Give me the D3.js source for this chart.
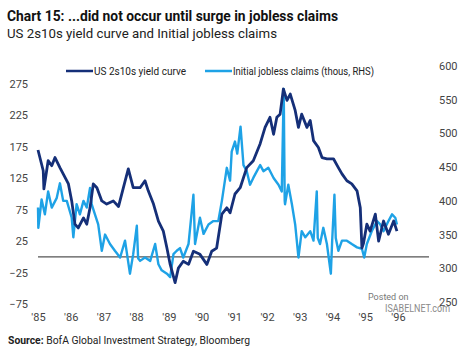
<!DOCTYPE html>
<html>
<head>
<meta charset="utf-8">
<script src="https://cdn.jsdelivr.net/npm/d3@7"></script>
<style>
  body { margin: 0; background: #fff; }
  svg { display: block; font-family: Roboto, "Open Sans", sans-serif; }
</style>
</head>
<body>
<div id="chart"></div>
<script>
// US 2s10s yield curve (bp, LHS) - decimal year
const curveDates = [1985.0, 1985.16, 1985.18, 1985.31, 1985.42, 1985.52, 1985.67, 1985.77, 1985.93, 1986.03,
  1986.13, 1986.23, 1986.39, 1986.49, 1986.59, 1986.69, 1986.8, 1986.95, 1987.1, 1987.3,
  1987.46, 1987.61, 1987.76, 1987.91, 1988.12, 1988.27, 1988.37, 1988.53, 1988.68, 1988.83,
  1988.94, 1989.04, 1989.19, 1989.29, 1989.44, 1989.6, 1989.75, 1989.95, 1990.16, 1990.31,
  1990.46, 1990.62, 1990.77, 1990.87, 1991.02, 1991.18, 1991.38, 1991.58, 1991.79, 1991.94,
  1992.09, 1992.2, 1992.3, 1992.4, 1992.5, 1992.61, 1992.71, 1992.86, 1992.96, 1993.06,
  1993.22, 1993.32, 1993.42, 1993.57, 1993.68, 1993.83, 1994.03, 1994.18, 1994.29, 1994.44,
  1994.59, 1994.75, 1994.85, 1994.9, 1994.95, 1995.05, 1995.15, 1995.31, 1995.41, 1995.56,
  1995.71, 1995.87, 1995.97];
const curveValues = [170, 137, 108, 153, 145, 158, 142, 132, 116, 89,
  52, 46, 62, 52, 78, 116, 110, 89, 84, 89,
  80, 110, 140, 110, 110, 121, 105, 84, 57, 41,
  14, -12, -41, -18, -7, -12, 9, 4, -12, 9,
  14, 68, 78, 70, 100, 110, 142, 153, 180, 206,
  222, 195, 222, 227, 267, 249, 259, 233, 206, 227,
  206, 217, 185, 174, 158, 156, 156, 142, 132, 121,
  116, 105, 78, 14, 22, 52, 41, 68, 25, 57,
  36, 57, 41];

// Initial jobless claims (thous, RHS)
const claimsDates = [1985.0, 1985.01, 1985.11, 1985.21, 1985.31, 1985.42, 1985.57, 1985.67, 1985.77, 1985.88,
  1986.03, 1986.08, 1986.18, 1986.28, 1986.39, 1986.49, 1986.59, 1986.64, 1986.74, 1986.84,
  1986.95, 1987.05, 1987.2, 1987.35, 1987.51, 1987.66, 1987.81, 1987.91, 1988.02, 1988.06,
  1988.12, 1988.27, 1988.43, 1988.58, 1988.68, 1988.78, 1988.94, 1989.04, 1989.14, 1989.24,
  1989.34, 1989.44, 1989.6, 1989.75, 1989.8, 1989.95, 1990.06, 1990.21, 1990.36, 1990.51,
  1990.62, 1990.77, 1990.87, 1990.92, 1991.02, 1991.09, 1991.19, 1991.28, 1991.38, 1991.48,
  1991.58, 1991.69, 1991.79, 1991.89, 1992.04, 1992.2, 1992.35, 1992.45, 1992.51, 1992.54,
  1992.55, 1992.65, 1992.76, 1992.86, 1992.96, 1993.06, 1993.17, 1993.32, 1993.42, 1993.52,
  1993.55, 1993.62, 1993.72, 1993.83, 1993.95, 1993.99, 1994.06, 1994.1, 1994.18, 1994.29,
  1994.44, 1994.59, 1994.75, 1994.9, 1994.97, 1995.05, 1995.2, 1995.36, 1995.46, 1995.56,
  1995.71, 1995.82, 1995.92, 1995.97];
const claimsValues = [390, 360, 402, 380, 414, 390, 404, 426, 400, 400,
  375, 346, 395, 380, 400, 390, 419, 395, 380, 365,
  326, 350, 336, 326, 316, 341, 292, 321, 363, 315,
  311, 316, 311, 336, 306, 297, 292, 287, 321, 326,
  330, 316, 336, 409, 336, 375, 351, 365, 370, 370,
  400, 449, 430, 473, 488, 470, 510, 453, 444, 424,
  434, 444, 453, 444, 449, 434, 424, 414, 566, 400,
  395, 424, 395, 365, 316, 355, 346, 355, 341, 414,
  345, 336, 360, 336, 292, 340, 409, 345, 326, 341,
  341, 336, 331, 329, 316, 336, 355, 370, 365, 355,
  370, 380, 375, 365];

const leftTicks = [275, 225, 175, 125, 75, 25, -25, -75];
const rightTicks = [600, 550, 500, 450, 400, 350, 300, 250];
const yearTicks = [1985, 1986, 1987, 1988, 1989, 1990, 1991, 1992, 1993, 1994, 1995, 1996];

const W = 474, H = 352;
const darkBlue = "#152f78";
const lightBlue = "#1ea2e6";

const svg = d3.select("#chart").append("svg")
  .attr("width", W)
  .attr("height", H);

const x = d3.scaleLinear().domain([1985, 1996.95]).range([38, 429]);
const yL = d3.scaleLinear().domain([-75, 275]).range([304, 84]);
const yR = d3.scaleLinear().domain([250, 600]).range([302, 66]);

// titles
svg.append("text")
  .attr("x", 7).attr("y", 21)
  .attr("textLength", 331).attr("lengthAdjust", "spacingAndGlyphs")
  .style("font-size", "15px").style("font-weight", "bold").style("fill", "#111")
  .text("Chart 15: ...did not occur until surge in jobless claims");

svg.append("text")
  .attr("x", 7).attr("y", 38)
  .attr("textLength", 270).attr("lengthAdjust", "spacingAndGlyphs")
  .style("font-size", "13px").style("fill", "#222")
  .text("US 2s10s yield curve and Initial jobless claims");

// left axis
svg.append("g")
  .attr("transform", "translate(28,0)")
  .call(d3.axisLeft(yL).tickValues(leftTicks).tickSize(0).tickPadding(0))
  .call(g => g.select(".domain").remove())
  .selectAll("text")
  .style("font-family", "Roboto, sans-serif")
  .style("font-size", "11px")
  .style("fill", "#444");

// right axis
svg.append("g")
  .attr("transform", "translate(439,0)")
  .call(d3.axisRight(yR).tickValues(rightTicks).tickSize(0).tickPadding(0))
  .call(g => g.select(".domain").remove())
  .selectAll("text")
  .style("font-family", "Roboto, sans-serif")
  .style("font-size", "11px")
  .style("fill", "#444");

// x axis
svg.append("g")
  .attr("transform", "translate(0,313)")
  .call(d3.axisBottom(x).tickValues(yearTicks).tickSize(0).tickPadding(0)
    .tickFormat(d => "'" + String(d).slice(2)))
  .call(g => g.select(".domain").remove())
  .selectAll("text")
  .style("font-family", "Roboto, sans-serif")
  .style("font-size", "11px")
  .style("fill", "#444");

// zero line
svg.append("line")
  .attr("x1", x(1985)).attr("x2", x(1996.95))
  .attr("y1", yL(0)).attr("y2", yL(0))
  .attr("stroke", "#555").attr("stroke-width", 1.2);

const claims = claimsDates.map((d, i) => ({ t: d, v: claimsValues[i] }));
const curve = curveDates.map((d, i) => ({ t: d, v: curveValues[i] }));

svg.append("path")
  .datum(claims)
  .attr("fill", "none")
  .attr("stroke", lightBlue)
  .attr("stroke-width", 2.4)
  .attr("stroke-linejoin", "round")
  .attr("d", d3.line().x(d => x(d.t)).y(d => yR(d.v)));

svg.append("path")
  .datum(curve)
  .attr("fill", "none")
  .attr("stroke", darkBlue)
  .attr("stroke-width", 2.8)
  .attr("stroke-linejoin", "round")
  .attr("d", d3.line().x(d => x(d.t)).y(d => yL(d.v)));

// legend
const legend = [
  { label: "US 2s10s yield curve", color: darkBlue, x: 66, w: 92 },
  { label: "Initial jobless claims (thous, RHS)", color: lightBlue, x: 205, w: 141 }
];
legend.forEach(l => {
  svg.append("line")
    .attr("x1", l.x).attr("x2", l.x + 27)
    .attr("y1", 71).attr("y2", 71)
    .attr("stroke", l.color).attr("stroke-width", 2.5);
  svg.append("text")
    .attr("x", l.x + 28).attr("y", 75)
    .attr("textLength", l.w).attr("lengthAdjust", "spacingAndGlyphs")
    .style("font-size", "10.5px").style("fill", "#222")
    .text(l.label);
});

// source
const src = svg.append("text")
  .attr("x", 8).attr("y", 344)
  .attr("textLength", 242).attr("lengthAdjust", "spacingAndGlyphs")
  .style("font-size", "11.5px").style("fill", "#222");
src.append("tspan").style("font-weight", "bold").text("Source:");
src.append("tspan").text(" BofA Global Investment Strategy, Bloomberg");

// watermark
svg.append("text")
  .attr("x", 368).attr("y", 300)
  .style("font-size", "9px").style("fill", "#777")
  .text("Posted on");
svg.append("text")
  .attr("x", 385).attr("y", 312)
  .attr("textLength", 65).attr("lengthAdjust", "spacingAndGlyphs")
  .style("font-size", "10px").style("fill", "#8a8a8a")
  .text("ISABELNET.com");
</script>
</body>
</html>
